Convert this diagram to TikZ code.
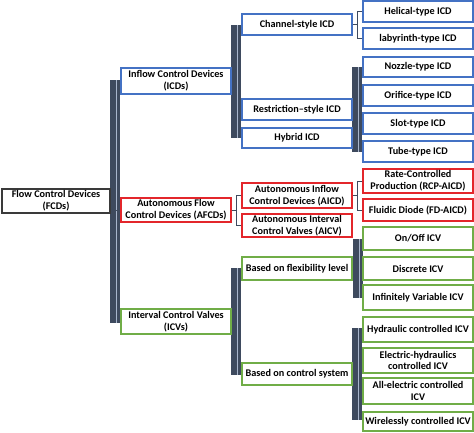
\documentclass[tikz,border=0pt]{standalone}
\usepackage{fontspec}
\setmainfont{Carlito}
\usepackage{tikz}
\usetikzlibrary{positioning, calc}

\definecolor{icdblue}{HTML}{4472C4}
\definecolor{afcdred}{HTML}{E3262B}
\definecolor{icvgreen}{HTML}{70AD47}
\definecolor{rootgray}{HTML}{3A3A3A}
\definecolor{barcol}{HTML}{3E4A5E}
\definecolor{barline}{HTML}{A9B6CC}
\definecolor{linkcol}{HTML}{3E4A5E}

\tikzset{
  box/.style={draw, line width=1.2pt, fill=white, minimum width=110pt, inner sep=0.5pt,
    align=center, font=\fontsize{10.2}{11.8}\selectfont\bfseries},
  rootbox/.style={box, draw=rootgray, line width=1.5pt},
  icdbox/.style={box, draw=icdblue},
  afcdbox/.style={box, draw=afcdred},
  icvbox/.style={box, draw=icvgreen},
  bar/.style={rectangle, fill=barcol, minimum width=10pt, inner sep=0pt,
    path picture={\draw[barline, line width=0.8pt]
      ([xshift=1.5pt]path picture bounding box.north) -- ([xshift=1.5pt]path picture bounding box.south);}},
  link/.style={draw=linkcol, line width=0.8pt}
}

\begin{document}
\begin{tikzpicture}[x=1pt, y=-1pt]
  \useasboundingbox (0,0) rectangle (474,432);

  % bars
  \node[bar, minimum height=243pt] (mainbar) at (115,201.5) {};
  \node[bar, minimum height=113pt] (icdbar) at (236,81.5) {};
  \node[bar, minimum height=85pt] (restrbar) at (357,109.5) {};
  \node[bar, minimum height=107pt] (icvbar) at (236,321.5) {};
  \node[bar, minimum height=59pt] (flexbar) at (358,268.5) {};
  \node[bar, minimum height=92pt] (ctrlbar) at (357,374) {};

  % level 0 and 1
  \node[rootbox, minimum height=24pt, minimum width=108pt] (fcd) at (56,201) {Flow Control Devices\\(FCDs)};
  \node[icdbox, minimum height=26pt] (icd) at (176,81) {Inflow Control Devices\\(ICDs)};
  \node[afcdbox, minimum height=24pt] (afcd) at (176,210) {Autonomous Flow\\Control Devices (AFCDs)};
  \node[icvbox, minimum height=25pt] (icv) at (176,321.5) {Interval Control Valves\\(ICVs)};

  % level 2
  \node[icdbox, minimum height=21pt] (channel) at (297,24.5) {Channel-style ICD};
  \node[icdbox, minimum height=21pt] (restr) at (297,109.5) {Restriction--style ICD};
  \node[icdbox, minimum height=20pt] (hybrid) at (297,138) {Hybrid ICD};
  \node[afcdbox, minimum height=25pt] (aicd) at (297,195.5) {Autonomous Inflow\\Control Devices (AICD)};
  \node[afcdbox, minimum height=23pt] (aicv) at (297,225.5) {Autonomous Interval\\Control Valves (AICV)};
  \node[icvbox, minimum height=23pt] (flex) at (297,268.5) {Based on flexibility level};
  \node[icvbox, minimum height=22pt] (ctrl) at (297,374) {Based on control system};

  % level 3
  \node[icdbox, minimum height=21pt] (helical) at (418,11.5) {Helical-type ICD};
  \node[icdbox, minimum height=21pt] (laby) at (418,38.5) {labyrinth-type ICD};
  \node[icdbox, minimum height=20pt] (nozzle) at (418,67) {Nozzle-type ICD};
  \node[icdbox, minimum height=21pt] (orifice) at (418,95.5) {Orifice-type ICD};
  \node[icdbox, minimum height=21pt] (slot) at (418,123.5) {Slot-type ICD};
  \node[icdbox, minimum height=21pt] (tube) at (418,151.5) {Tube-type ICD};
  \node[afcdbox, minimum height=24pt] (rcp) at (418,181) {Rate-Controlled\\Production (RCP-AICD)};
  \node[afcdbox, minimum height=22pt] (fd) at (418,210) {Fluidic Diode (FD-AICD)};
  \node[icvbox, minimum height=23pt] (onoff) at (418,238.5) {On/Off ICV};
  \node[icvbox, minimum height=23pt] (discrete) at (418,268.5) {Discrete ICV};
  \node[icvbox, minimum height=25pt] (infvar) at (418,297.5) {Infinitely Variable ICV};
  \node[icvbox, minimum height=25pt] (hydr) at (418,329.5) {Hydraulic controlled ICV};
  \node[icvbox, minimum height=25pt] (elec) at (418,360.5) {Electric-hydraulics\\controlled ICV};
  \node[icvbox, minimum height=26pt] (alle) at (418,391) {All-electric controlled\\ICV};
  \node[icvbox, minimum height=19pt] (wire) at (418,421.5) {Wirelessly controlled ICV};

  % thin brackets
  \draw[link] (fcd.east) -- ++(3,0) |- (afcd.west);
  \draw[link] (afcd.east) -- ++(5,0) coordinate (afork);
  \draw[link] (aicd.west) -| (afork) |- (aicv.west);
  \draw[link] (channel.east) -- ++(5,0) coordinate (cfork);
  \draw[link] (helical.west) -| (cfork) |- (laby.west);
  \draw[link] (aicd.east) -- ++(5,0) coordinate (rfork);
  \draw[link] (rcp.west) -| (rfork) |- (fd.west);
\end{tikzpicture}
\end{document}
